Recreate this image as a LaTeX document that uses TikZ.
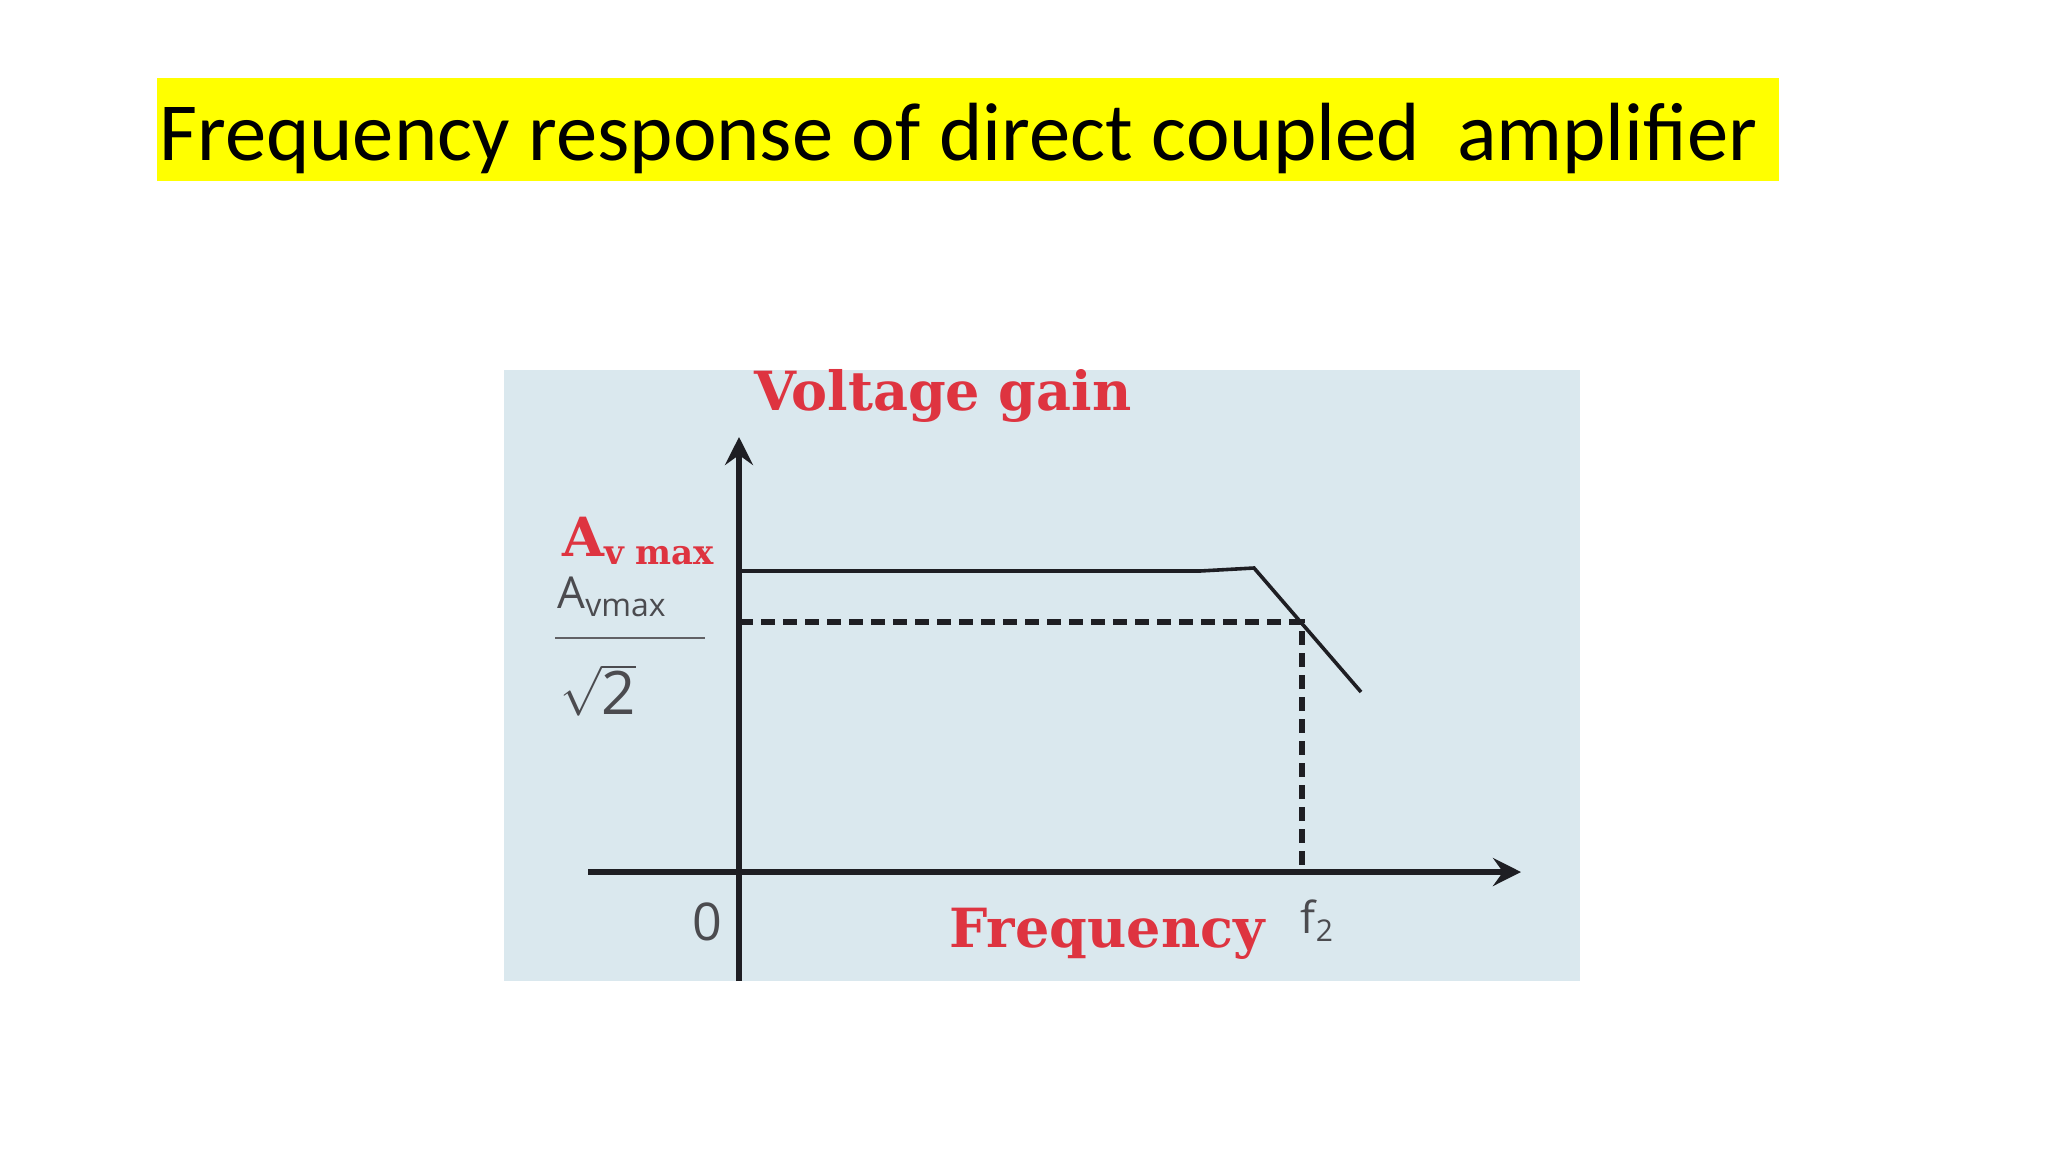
\documentclass[tikz,border=0pt]{standalone}
\usepackage{fontspec}
\setmainfont{Carlito}
\newfontfamily\slab{DejaVu Serif}
\newfontfamily\plain{Open Sans}
\definecolor{hl}{RGB}{255,255,0}
\definecolor{panel}{RGB}{218,232,238}
\definecolor{lab}{RGB}{222,52,64}
\definecolor{ax}{RGB}{30,30,35}
\tikzset{lbl/.style={text=lab,font=\slab\bfseries\fontsize{27}{28}\selectfont,inner sep=0pt},
gl/.style={text=ax!80,font=\plain\fontsize{22}{24}\selectfont,inner sep=0pt},
axis/.style={draw=ax,line width=3pt,-{Stealth[length=14pt,width=14pt,inset=5pt]}},
curve/.style={draw=ax,line width=1.8pt},
dsh/.style={draw=ax,line width=2.6pt,dash pattern=on 7pt off 4pt}}
\usetikzlibrary{arrows.meta}
\begin{document}
\begin{tikzpicture}[x=0.5pt,y=-0.5pt]
\useasboundingbox (0,0) rectangle (2048,1152);
\fill[white] (0,0) rectangle (2048,1152);
\fill[hl] (157,78) rectangle (1779,181);
\node[anchor=base west,inner sep=0pt,font=\fontsize{41.3}{45}\selectfont] (title) at (159,160) {Frequency response of direct coupled\ \ amplifier};
\fill[panel] (504,370) rectangle (1580,981);
\coordinate (ytop) at (739,437);
\coordinate (ybot) at (739,981);
\coordinate (xl) at (588,872);
\coordinate (xr) at (1521,872);
\draw[axis] (ybot) -- (ytop);
\draw[axis] (xl) -- (xr);
\coordinate (a) at (739,571);
\coordinate (b) at (1254,568);
\coordinate (c) at (1361,692);
\coordinate (d) at (1302,622);
\coordinate (e) at (739,622);
\coordinate (f) at (1302,872);
\draw[curve] (a) -- (1200,571) -- (b) -- (c);
\draw[dsh] (e) -- (d) -- (f);
\node[lbl] (vg) at (943,396) {Voltage gain};
\node[lbl,anchor=base west] (avm) at (562,556) {A\raisebox{-4pt}{\fontsize{17}{17}\selectfont v max}};
\node[gl,anchor=base west] (av2) at (557,608) {A\raisebox{-4pt}{\fontsize{16}{16}\selectfont vmax}};
\draw[ax!70,line width=1.2pt] (555,638) -- (705,638);
\node[gl,font=\plain\fontsize{30}{32}\selectfont] (sq) at (598,690) {$\sqrt{\mbox{2}}$};
\node[gl,font=\plain\fontsize{26}{28}\selectfont] (zero) at (707,922) {0};
\node[lbl] (fr) at (1107,934) {Frequency};
\node[gl] (f2) at (1317,921) {f\raisebox{-4pt}{\fontsize{15}{15}\selectfont 2}};
\end{tikzpicture}
\end{document}
